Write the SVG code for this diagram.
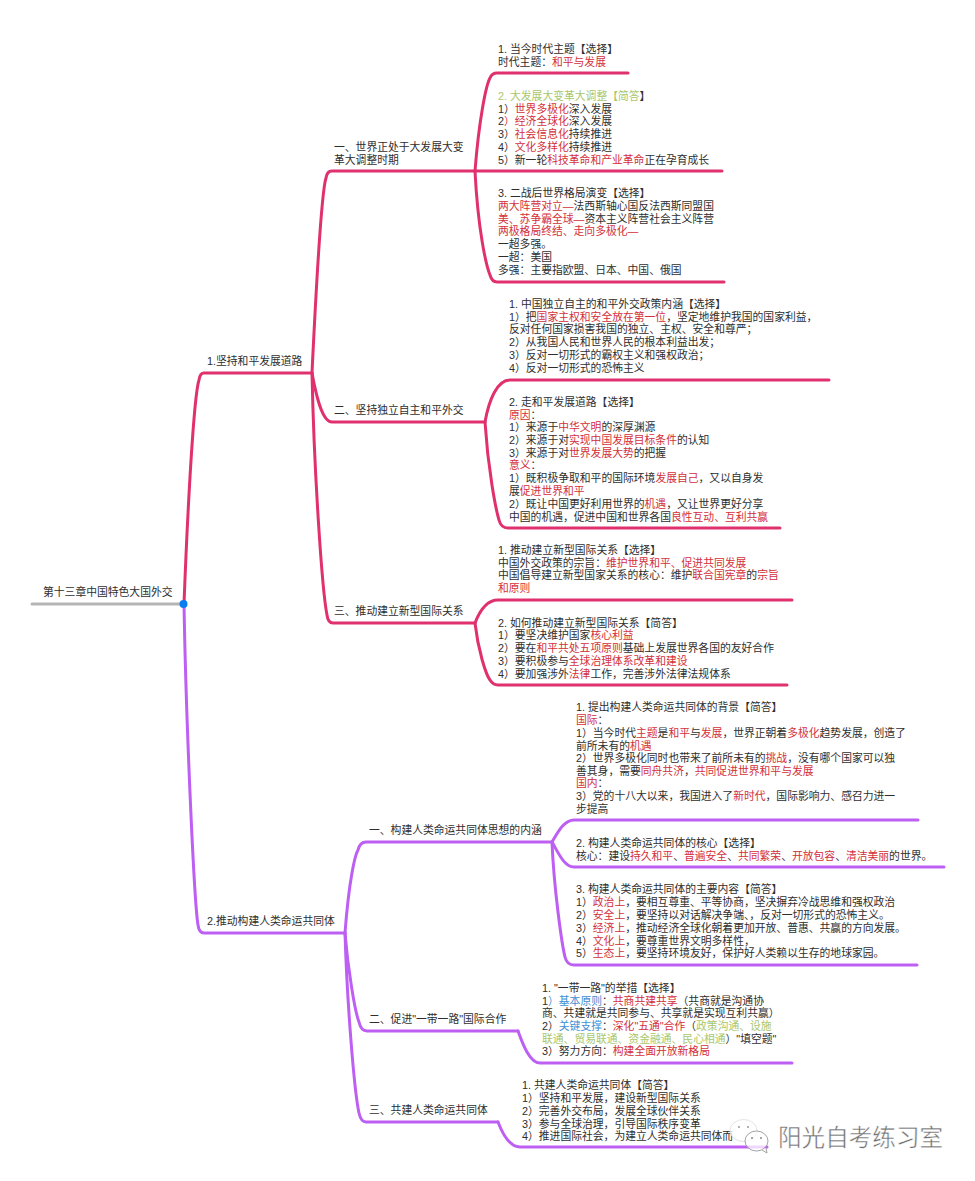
<svg xmlns="http://www.w3.org/2000/svg" width="975" height="1181" viewBox="0 0 975 1181">
<style>
text{font-family:"Liberation Sans","Noto Sans CJK SC",sans-serif;font-size:10.8px;fill:#2e2e2e}
.r{fill:#d3303a}.g{fill:#a9c76c}.b{fill:#3f8fd2}
.pk,.pu,.gy{fill:none;stroke-width:3;stroke-linecap:round;stroke-linejoin:round}
.pk{stroke:#e0306e}.pu{stroke:#bd5ff2}.gy{stroke:#b5b5b5}
.wm{font-size:23.6px;fill:#707070;stroke:#fff;stroke-width:.45}
</style>
<rect width="975" height="1181" fill="#fff"/>
<g id="connectors">
<path class="gy" d="M32 604H184"/>
<path class="pk" d="M184 604C188 500 194 395 199 380Q200 373 204 373H312"/>
<path class="pu" d="M184 604C186 720 194 900 198 925Q199 933 204 933H345"/>
<path class="pk" d="M312 373C316 290 322 190 326 178Q327 171 332 171H475"/>
<path class="pk" d="M312 373C316 395 322 422 332 422H485"/>
<path class="pk" d="M312 373C314 470 322 590 327 615Q328 623 333 623H475"/>
<path class="pk" d="M475 171C479 120 486 85 490 78Q492 73 497 73H628"/>
<path class="pk" d="M475 171H722"/>
<path class="pk" d="M475 171C478 230 486 265 490 275Q492 282 497 282H724"/>
<path class="pk" d="M485 422C489 400 497 380 510 380H829"/>
<path class="pk" d="M485 422C488 470 496 510 499 520Q501 528 508 528H780"/>
<path class="pk" d="M475 623C480 610 488 600 498 600H792"/>
<path class="pk" d="M475 623C478 650 486 675 490 680Q493 685 498 685H787"/>
<path class="pu" d="M345 933C349 880 355 855 358 850Q360 842 366 842H552"/>
<path class="pu" d="M345 933C348 970 355 1012 359 1022Q361 1031 367 1031H518"/>
<path class="pu" d="M345 933C347 1000 354 1090 359 1113Q361 1122 366 1122H498"/>
<path class="pu" d="M552 842C558 832 564 820 574 820H918"/>
<path class="pu" d="M552 842C558 852 564 867 574 867H944"/>
<path class="pu" d="M552 842C554 890 562 945 565 957Q567 965 574 965H917"/>
<path class="pu" d="M518 1031C523 1045 530 1063 540 1063H792"/>
<path class="pu" d="M498 1122C503 1135 510 1147 520 1147H767"/>
<circle cx="183.500" cy="604" r="4" fill="#0a7df0"/>
</g>
<g id="root"><text x="43" y="596">第十三章中国特色大国外交</text></g>
<g id="b1"><text x="207" y="365">1.坚持和平发展道路</text></g>
<g id="b2"><text x="207" y="925">2.推动构建人类命运共同体</text></g>
<g id="s1"><text x="334" y="151">一、世界正处于大发展大变</text><text x="334" y="164">革大调整时期</text></g>
<g id="s2"><text x="334" y="414">二、坚持独立自主和平外交</text></g>
<g id="s3"><text x="334" y="615">三、推动建立新型国际关系</text></g>
<g id="p1"><text x="369" y="834">一、构建人类命运共同体思想的内涵</text></g>
<g id="p2"><text x="369" y="1023">二、促进"一带一路"国际合作</text></g>
<g id="p3"><text x="369" y="1114">三、共建人类命运共同体</text></g>
<g id="n1">
<text x="498" y="53">1. 当今时代主题【选择】</text>
<text x="498" y="66">时代主题：<tspan class="r">和平与发展</tspan></text>
</g>
<g id="n2">
<text x="498" y="100"><tspan class="g">2. 大发展大变革大调整【简答</tspan>】</text>
<text x="498" y="113">1）<tspan class="r">世界多极化</tspan>深入发展</text>
<text x="498" y="125">2<tspan class="r">）经济全球化</tspan>深入发展</text>
<text x="498" y="138">3）<tspan class="r">社会信息化</tspan>持续推进</text>
<text x="498" y="151">4）<tspan class="r">文化多样化</tspan>持续推进</text>
<text x="498" y="164">5）新一轮<tspan class="r">科技革命和产业革命</tspan>正在孕育成长</text>
</g>
<g id="n3">
<text x="498" y="197">3. 二战后世界格局演变【选择】</text>
<text x="498" y="210"><tspan class="r">两大阵营对立—</tspan>法西斯轴心国反法西斯同盟国</text>
<text x="498" y="223"><tspan class="r">美、苏争霸全球—</tspan>资本主义阵营社会主义阵营</text>
<text x="498" y="235"><tspan class="r">两极格局终结、走向多极化—</tspan></text>
<text x="498" y="248">一超多强。</text>
<text x="498" y="261">一超：美国</text>
<text x="498" y="274">多强：主要指欧盟、日本、中国、俄国</text>
</g>
<g id="n4">
<text x="509" y="308">1. 中国独立自主的和平外交政策内涵【选择】</text>
<text x="509" y="321">1）把<tspan class="r">国家主权和安全放在第一位</tspan>，坚定地维护我国的国家利益，</text>
<text x="509" y="333">反对任何国家损害我国的独立、主权、安全和尊严；</text>
<text x="509" y="346">2）从我国人民和世界人民的根本利益出发；</text>
<text x="509" y="359">3）反对一切形式的霸权主义和强权政治；</text>
<text x="509" y="372">4）反对一切形式的恐怖主义</text>
</g>
<g id="n5">
<text x="509" y="406">2. 走和平发展道路【选择】</text>
<text x="509" y="419"><tspan class="r">原因</tspan>：</text>
<text x="509" y="431">1）来源于<tspan class="r">中华文明</tspan>的深厚渊源</text>
<text x="509" y="444">2）来源于对<tspan class="r">实现中国发展目标条件</tspan>的认知</text>
<text x="509" y="457">3）来源于对<tspan class="r">世界发展大势</tspan>的把握</text>
<text x="509" y="469"><tspan class="r">意义</tspan>：</text>
<text x="509" y="482">1）既积极争取和平的国际环境<tspan class="r">发展自己</tspan>，又以自身发</text>
<text x="509" y="495">展<tspan class="r">促进世界和平</tspan></text>
<text x="509" y="508">2）既让中国更好利用世界的<tspan class="r">机遇</tspan>，又让世界更好分享</text>
<text x="509" y="521">中国的机遇，促进中国和世界各国<tspan class="r">良性互动、互利共赢</tspan></text>
</g>
<g id="n6">
<text x="498" y="554">1. 推动建立新型国际关系【选择】</text>
<text x="498" y="567">中国外交政策的宗旨：<tspan class="r">维护世界和平、促进共同发展</tspan></text>
<text x="498" y="579">中国倡导建立新型国家关系的核心：维护<tspan class="r">联合国宪章</tspan>的<tspan class="r">宗旨</tspan></text>
<text x="498" y="592"><tspan class="r">和原则</tspan></text>
</g>
<g id="n7">
<text x="498" y="627">2. 如何推动建立新型国际关系【简答】</text>
<text x="498" y="639">1）要坚决维护国家<tspan class="r">核心利益</tspan></text>
<text x="498" y="652">2）要在<tspan class="r">和平共处五项原则</tspan>基础上发展世界各国的友好合作</text>
<text x="498" y="665">3）要积极参与<tspan class="r">全球治理体系改革和建设</tspan></text>
<text x="498" y="678">4）要加强涉外<tspan class="r">法律</tspan>工作，完善涉外法律法规体系</text>
</g>
<g id="n8">
<text x="576" y="711">1. 提出构建人类命运共同体的背景【简答】</text>
<text x="576" y="724"><tspan class="r">国际</tspan>：</text>
<text x="576" y="737">1）当今时代<tspan class="r">主题</tspan>是<tspan class="r">和平</tspan>与<tspan class="r">发展</tspan>，世界正朝着<tspan class="r">多极化</tspan>趋势发展，创造了</text>
<text x="576" y="750">前所未有的<tspan class="r">机遇</tspan></text>
<text x="576" y="762">2）世界多极化同时也带来了前所未有的<tspan class="r">挑战</tspan>，没有哪个国家可以独</text>
<text x="576" y="775">善其身，需要<tspan class="r">同舟共济</tspan>，<tspan class="r">共同促进世界和平与发展</tspan></text>
<text x="576" y="787"><tspan class="r">国内</tspan>：</text>
<text x="576" y="800">3）党的十八大以来，我国进入了<tspan class="r">新时代</tspan>，国际影响力、感召力进一</text>
<text x="576" y="813">步提高</text>
</g>
<g id="n9">
<text x="576" y="847">2. 构建人类命运共同体的核心【选择】</text>
<text x="576" y="860">核心：建设<tspan class="r">持久和平</tspan>、<tspan class="r">普遍安全</tspan>、<tspan class="r">共同繁荣</tspan>、<tspan class="r">开放包容</tspan>、<tspan class="r">清洁美丽</tspan>的世界。</text>
</g>
<g id="n10">
<text x="576" y="893">3. 构建人类命运共同体的主要内容【简答】</text>
<text x="576" y="906">1）<tspan class="r">政治上</tspan>，要相互尊重、平等协商，坚决摒弃冷战思维和强权政治</text>
<text x="576" y="919">2）<tspan class="r">安全上</tspan>，要坚持以对话解决争端、，反对一切形式的恐怖主义。</text>
<text x="576" y="932">3）<tspan class="r">经济上</tspan>，推动经济全球化朝着更加开放、普惠、共赢的方向发展。</text>
<text x="576" y="945">4）<tspan class="r">文化上</tspan>，要尊重世界文明多样性，</text>
<text x="576" y="957">5）<tspan class="r">生态上</tspan>，要坚持环境友好，保护好人类赖以生存的地球家园。</text>
</g>
<g id="n11">
<text x="542" y="992">1. "一带一路"的举措【选择】</text>
<text x="542" y="1005">1<tspan class="b">）基本原则</tspan>：<tspan class="r">共商共建共享</tspan>（共商就是沟通协</text>
<text x="542" y="1017">商、共建就是共同参与、共享就是实现互利共赢）</text>
<text x="542" y="1030">2）<tspan class="b">关键支撑</tspan>：<tspan class="r">深化"五通"合作</tspan>（<tspan class="g">政策沟通、设施</tspan></text>
<text x="542" y="1043"><tspan class="g">联通、贸易联通、资金融通、民心相通</tspan>）"填空题"</text>
<text x="542" y="1055">3）努力方向：<tspan class="r">构建全面开放新格局</tspan></text>
</g>
<g id="n12">
<text x="522" y="1089">1. 共建人类命运共同体【简答】</text>
<text x="522" y="1102">1）坚持和平发展，建设新型国际关系</text>
<text x="522" y="1115">2）完善外交布局，发展全球伙伴关系</text>
<text x="522" y="1128">3）参与全球治理，引导国际秩序变革</text>
<text x="522" y="1140">4）推进国际社会，为建立人类命运共同体而</text>
</g>
<g id="watermark">
<ellipse cx="743.500" cy="1130.500" rx="13.500" ry="11" fill="#fff" fill-opacity=".75" stroke="#dcdcdc" stroke-width=".8"/>
<ellipse cx="756.500" cy="1141" rx="11.500" ry="10" fill="#fff" fill-opacity=".75" stroke="#8c8c8c" stroke-width=".8"/>
<path d="M762 1150l5 3-1-5" fill="#fff" stroke="#8c8c8c" stroke-width=".8"/>
<circle cx="739" cy="1127" r="1" fill="#999"/><circle cx="748" cy="1127" r="1" fill="#999"/>
<circle cx="752" cy="1138" r="1" fill="#888"/><circle cx="761" cy="1138" r="1" fill="#888"/>
<text class="wm" x="778" y="1146">阳光自考练习室</text>
</g>
</svg>
